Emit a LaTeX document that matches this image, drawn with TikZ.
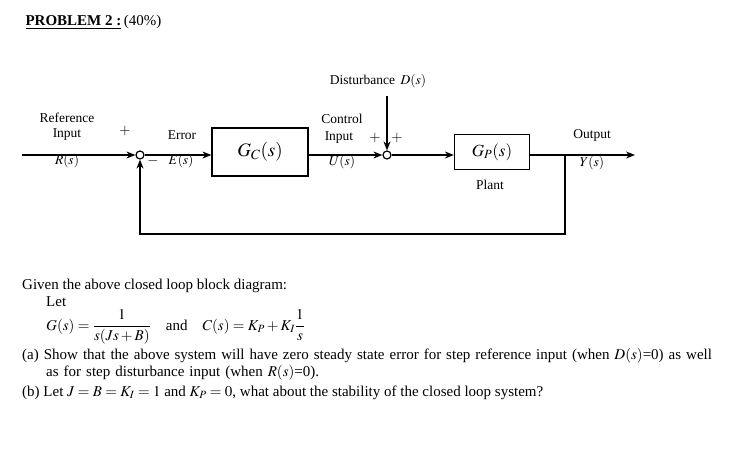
\documentclass[tikz,border=0pt]{standalone}
\usepackage{amsmath}
\usepackage{mathptmx}
\usepackage{fontspec}
\setmainfont{Liberation Serif}
\usetikzlibrary{arrows.meta}
\begin{document}
\begin{tikzpicture}[x=1pt,y=-1pt]
\tikzset{blk/.style={draw,line width=1.2pt,inner sep=0pt},
sig/.style={->,line width=1.2pt,>={Stealth[length=9pt,width=7pt]}},
sumj/.style={draw,circle,line width=1.2pt,minimum size=8pt,inner sep=0pt},
lbl/.style={font=\fontsize{13.5}{14}\selectfont,inner sep=0pt}}
\useasboundingbox (0,0) rectangle (756,448);
\node[anchor=west,font=\fontsize{15}{16}\selectfont] (title) at (22,22) {\textbf{\underline{PROBLEM 2 :}}\,(40\%)};
%%% block diagram
\node[sumj] (s1) at (140,155) {};
\node[blk,minimum width=96pt,minimum height=48pt] (gc) at (260,152) {\fontsize{19}{19}\selectfont$G_C(s)$};
\node[sumj] (s2) at (387,155) {};
\node[blk,minimum width=75pt,minimum height=35pt] (gp) at (492,152) {\fontsize{17}{17}\selectfont$G_P(s)$};
\coordinate (in) at (22,155);
\coordinate (out) at (635,155);
\coordinate (br) at (565,155);
\coordinate (fb) at (565,234);
\coordinate (fb2) at (140,234);
\coordinate (dist) at (387,96);
\draw[sig] (in) -- (s1);
\draw[sig] (s1) -- (s1 -| gc.west);
\draw[sig] (gc.east |- s2) -- (s2);
\draw[sig] (s2) -- (s2 -| gp.west);
\draw[sig] (gp.east |- s2) -- (out);
\draw[sig] (br) -- (fb) -- (fb2) -- (s1);
\draw[sig] (dist) -- (s2);
%%% labels
\node[lbl] (dl) at (378,81) {Disturbance \,$D(s)$};
\node[lbl] (ref) at (67,118) {Reference};
\node[lbl] (refin) at (67,135) {Input};
\node[lbl,anchor=north] (rs) at (67,154) {$R(s)$};
\node[lbl] (p1) at (125,131) {\Large $+$};
\node[lbl] (m1) at (153,161) {\Large $-$};
\node[lbl] (err) at (182,135) {Error};
\node[lbl,anchor=north] (es) at (181,154) {$E(s)$};
\node[lbl] (ctl) at (342,119) {Control};
\node[lbl] (ctlin) at (339,138) {Input};
\node[lbl,anchor=north] (us) at (342,155) {$U(s)$};
\node[lbl] (p2) at (375,138) {\Large $+$};
\node[lbl] (p3) at (397,138) {\Large $+$};
\node[lbl] (outl) at (592,135) {Output};
\node[lbl,anchor=north] (ys) at (592,156) {$Y(s)$};
\node[lbl] (plant) at (490,185) {Plant};
%%% problem text
\begin{scope}[every node/.style={anchor=west,inner sep=0pt,font=\fontsize{15}{17}\selectfont}]
\node (given) at (22,286) {Given the above closed loop block diagram:};
\node (let) at (46,302) {Let};
\node (eq) at (46,327) {$G(s)=\dfrac{1}{s(Js+B)}$\quad and\quad $C(s)=K_P+K_I\dfrac{1}{s}$};
\node[anchor=north west,text width=734pt,align=left] (qa) at (22,348) {(a) Show that the above system will have zero steady state error for step reference input (when $D(s)$=0) as well\\ \hspace*{24pt}as for step disturbance input (when $R(s)$=0).};
\node (qb) at (22,393) {(b) Let $J=B=K_I=1$ and $K_P=0$, what about the stability of the closed loop system?};
\end{scope}
\end{tikzpicture}
\end{document}
